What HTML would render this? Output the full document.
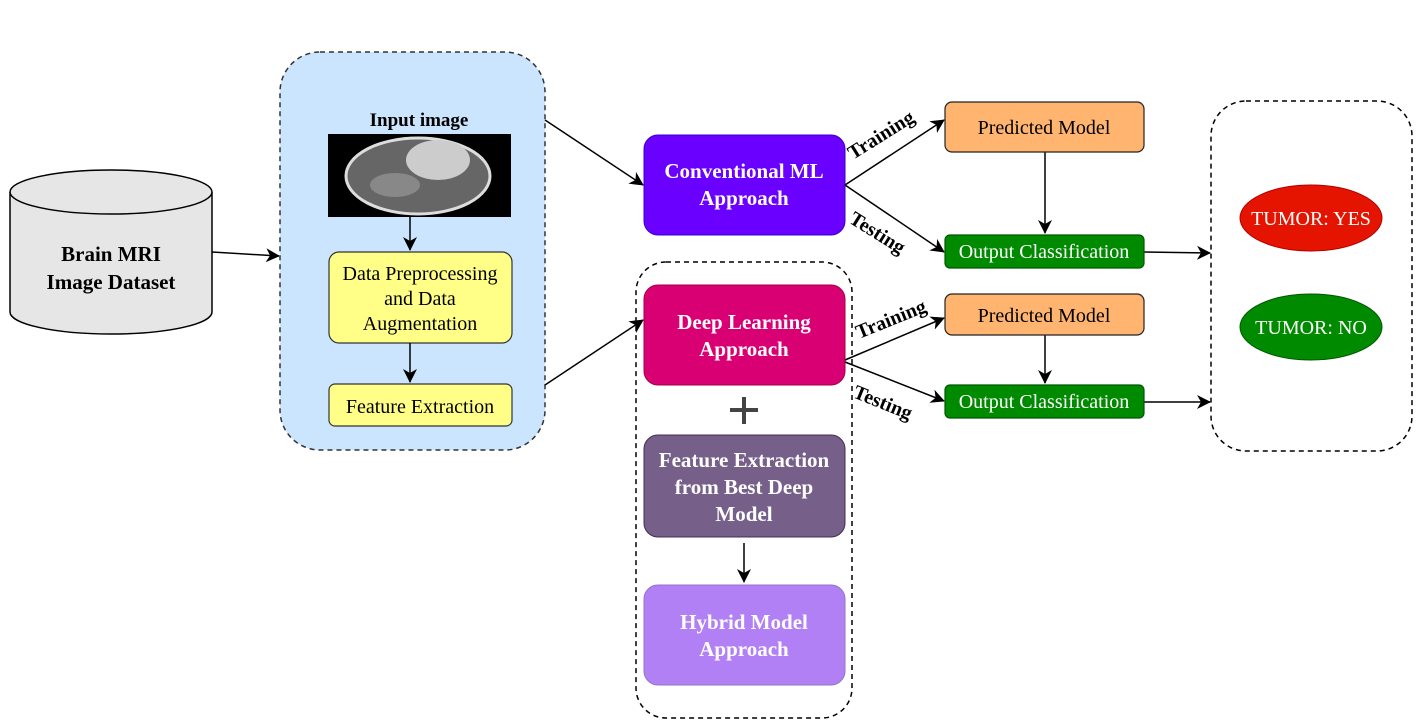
<!DOCTYPE html>
<html><head><style>body{margin:0;background:#fff}svg{display:block}</style></head><body>
<svg width="1420" height="727" viewBox="0 0 1420 727" font-family="Liberation Serif, serif">
<defs><marker id="a" markerWidth="14" markerHeight="14" refX="13" refY="7" orient="auto" markerUnits="userSpaceOnUse"><path d="M0,0 L14,7 L0,14 L4,7 z" fill="#000"/></marker></defs>
<!-- cylinder -->
<path d="M10,192 L10,312 A101,22 0 0 0 212,312 L212,192" fill="#e6e6e6" stroke="#000" stroke-width="1.5"/>
<ellipse cx="111" cy="192" rx="101" ry="22" fill="#e6e6e6" stroke="#000" stroke-width="1.5"/>
<text x="111" y="261" font-size="21" font-weight="bold" text-anchor="middle">Brain MRI</text>
<text x="111" y="289" font-size="21" font-weight="bold" text-anchor="middle">Image Dataset</text>
<line x1="212" y1="252" x2="279" y2="256" stroke="#000" stroke-width="1.5" marker-end="url(#a)"/>
<!-- blue box -->
<rect x="280" y="52" width="265" height="398" rx="40" fill="#cce5ff" stroke="#333" stroke-width="1.5" stroke-dasharray="5,4"/>
<text x="419" y="126" font-size="19" font-weight="bold" text-anchor="middle">Input image</text>
<rect x="328" y="134" width="183" height="83" fill="#000"/>
<ellipse cx="418" cy="176" rx="72" ry="38" fill="#666" stroke="#ddd" stroke-width="3"/>
<ellipse cx="438" cy="160" rx="32" ry="20" fill="#ccc"/>
<ellipse cx="395" cy="185" rx="25" ry="12" fill="#888"/>
<line x1="410" y1="217" x2="410" y2="250" stroke="#000" stroke-width="1.5" marker-end="url(#a)"/>
<rect x="329" y="252" width="183" height="91" rx="10" fill="#ffff88" stroke="#333" stroke-width="1.2"/>
<text x="420" y="280" font-size="20" text-anchor="middle">Data Preprocessing</text>
<text x="420" y="305" font-size="20" text-anchor="middle">and Data</text>
<text x="420" y="330" font-size="20" text-anchor="middle">Augmentation</text>
<line x1="410" y1="343" x2="410" y2="382" stroke="#000" stroke-width="1.5" marker-end="url(#a)"/>
<rect x="329" y="384" width="183" height="42" rx="6" fill="#ffff88" stroke="#333" stroke-width="1.2"/>
<text x="420" y="413" font-size="20" text-anchor="middle">Feature Extraction</text>
<line x1="545" y1="120" x2="643" y2="185" stroke="#000" stroke-width="1.5" marker-end="url(#a)"/>
<line x1="545" y1="385" x2="643" y2="320" stroke="#000" stroke-width="1.5" marker-end="url(#a)"/>
<!-- middle -->
<rect x="644" y="135" width="201" height="100" rx="14" fill="#6a00ff" stroke="#3700cc"/>
<text x="744" y="178" font-size="21" font-weight="bold" fill="#fff" text-anchor="middle">Conventional ML</text>
<text x="744" y="205" font-size="21" font-weight="bold" fill="#fff" text-anchor="middle">Approach</text>
<rect x="636" y="262" width="216" height="456" rx="30" fill="none" stroke="#000" stroke-width="1.5" stroke-dasharray="5,4"/>
<rect x="644" y="285" width="201" height="100" rx="14" fill="#d80073" stroke="#a50040"/>
<text x="744" y="329" font-size="21" font-weight="bold" fill="#fff" text-anchor="middle">Deep Learning</text>
<text x="744" y="356" font-size="21" font-weight="bold" fill="#fff" text-anchor="middle">Approach</text>
<path d="M744,397 V424 M730,410 H758" stroke="#444" stroke-width="4"/>
<rect x="644" y="435" width="201" height="102" rx="14" fill="#76608a" stroke="#432d57"/>
<text x="744" y="467" font-size="21" font-weight="bold" fill="#fff" text-anchor="middle">Feature Extraction</text>
<text x="744" y="494" font-size="21" font-weight="bold" fill="#fff" text-anchor="middle">from Best Deep</text>
<text x="744" y="521" font-size="21" font-weight="bold" fill="#fff" text-anchor="middle">Model</text>
<line x1="744" y1="543" x2="744" y2="582" stroke="#000" stroke-width="1.5" marker-end="url(#a)"/>
<rect x="644" y="585" width="201" height="100" rx="14" fill="#b280f5" stroke="#9673c8"/>
<text x="744" y="629" font-size="21" font-weight="bold" fill="#fff" text-anchor="middle">Hybrid Model</text>
<text x="744" y="656" font-size="21" font-weight="bold" fill="#fff" text-anchor="middle">Approach</text>
<!-- branches -->
<g stroke="#000" stroke-width="1.5" marker-end="url(#a)">
<line x1="845" y1="185" x2="944" y2="120"/>
<line x1="845" y1="185" x2="944" y2="252"/>
<line x1="845" y1="360" x2="944" y2="318"/>
<line x1="845" y1="362" x2="944" y2="401"/>
<line x1="1045" y1="152" x2="1045" y2="233"/>
<line x1="1045" y1="335" x2="1045" y2="383"/>
<line x1="1144" y1="252" x2="1210" y2="253"/>
<line x1="1144" y1="402" x2="1210" y2="402"/>
</g>
<g font-size="20" font-weight="bold">
<text transform="translate(853,160) rotate(-32)">Training</text>
<text transform="translate(848,222) rotate(32)">Testing</text>
<text transform="translate(859,339) rotate(-22)">Training</text>
<text transform="translate(852,397) rotate(22)">Testing</text>
</g>
<rect x="945" y="102" width="199" height="50" rx="7" fill="#ffb570" stroke="#222" stroke-width="1.2"/>
<text x="1044" y="134" font-size="20" text-anchor="middle">Predicted Model</text>
<rect x="945" y="235" width="199" height="33" rx="5" fill="#008a00" stroke="#005700" stroke-width="1.2"/>
<text x="1044" y="258" font-size="20" fill="#fff" text-anchor="middle">Output Classification</text>
<rect x="945" y="294" width="199" height="41" rx="7" fill="#ffb570" stroke="#222" stroke-width="1.2"/>
<text x="1044" y="322" font-size="20" text-anchor="middle">Predicted Model</text>
<rect x="945" y="385" width="199" height="33" rx="5" fill="#008a00" stroke="#005700" stroke-width="1.2"/>
<text x="1044" y="408" font-size="20" fill="#fff" text-anchor="middle">Output Classification</text>
<!-- right -->
<rect x="1211" y="101" width="201" height="350" rx="35" fill="none" stroke="#000" stroke-width="1.5" stroke-dasharray="5,4"/>
<ellipse cx="1311" cy="218" rx="71" ry="33" fill="#e51400" stroke="#b20000"/>
<text x="1311" y="225" font-size="20" fill="#fff" text-anchor="middle">TUMOR: YES</text>
<ellipse cx="1311" cy="327" rx="71" ry="33" fill="#008a00" stroke="#005700"/>
<text x="1311" y="334" font-size="20" fill="#fff" text-anchor="middle">TUMOR: NO</text>
</svg>
</body></html>
